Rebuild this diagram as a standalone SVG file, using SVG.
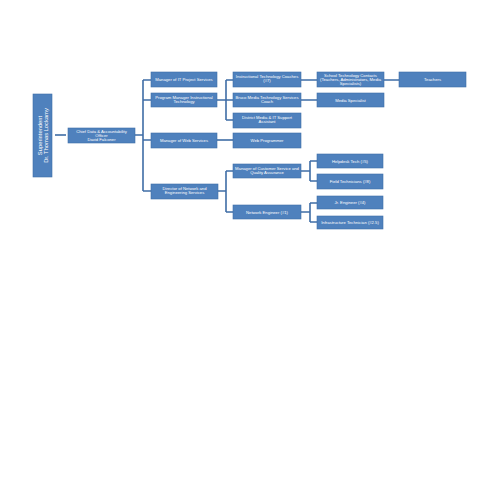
<svg xmlns="http://www.w3.org/2000/svg" width="495" height="495" viewBox="0 0 495 495">
<style>
.box{fill:#4F81BD;stroke:#3F6FA8;stroke-width:0.6}
.t{font-family:"Liberation Sans",Arial,sans-serif;font-size:4.2px;fill:#fff;text-anchor:middle}
.big{font-size:5.8px}
.c{stroke:#3F6DA6;stroke-width:1.6;fill:none}
</style>
<rect width="495" height="495" fill="#fff"/>
<g id="connectors">
<path class="c" d="M55 135H66"/>
<path class="c" d="M135 135H143M143 80V191M143 80H151M143 100H151M143 140H151M143 191H151"/>
<path class="c" d="M217 100H226M226 80V120M226 80H233M226 100H233M226 120H233"/>
<path class="c" d="M217 140H233"/>
<path class="c" d="M218 191H226M226 171V212M226 171H233M226 212H233"/>
<path class="c" d="M301 80H317M301 100H317M384 80H399"/>
<path class="c" d="M301 171H310M310 161V181M310 161H317M310 181H317"/>
<path class="c" d="M301 212H310M310 203V222M310 203H317M310 222H317"/>
</g>
<g id="superintendent">
<rect class="box" x="33" y="94" width="19" height="83"/>
<text class="t big" transform="translate(41.5,135.5) rotate(-90)">Superintendent</text>
<text class="t big" transform="translate(47.5,135.5) rotate(-90)">Dr. Thomas Lockamy</text>
</g>
<g id="chief">
<rect class="box" x="68" y="128" width="67" height="15"/>
<text class="t" x="101.5" y="133">Chief Data &amp; Accountability</text>
<text class="t" x="101.5" y="137.2">Officer</text>
<text class="t" x="101.5" y="141.4">David Falconer</text>
</g>
<g id="mgr-it">
<rect class="box" x="151" y="72" width="66" height="15"/>
<text class="t" x="184" y="81">Manager of IT Project Services</text>
</g>
<g id="pm-it">
<rect class="box" x="151" y="93" width="66" height="14"/>
<text class="t" x="184" y="99">Program Manager Instructional</text>
<text class="t" x="184" y="103.2">Technology</text>
</g>
<g id="mgr-web">
<rect class="box" x="151" y="133" width="66" height="15"/>
<text class="t" x="184" y="142">Manager of Web Services</text>
</g>
<g id="dir-net">
<rect class="box" x="151" y="184" width="67" height="15"/>
<text class="t" x="184.5" y="190">Director of Network and</text>
<text class="t" x="184.5" y="194.2">Engineering Services</text>
</g>
<g id="itc">
<rect class="box" x="233" y="72" width="68" height="15"/>
<text class="t" x="267" y="78">Instructional Technology Coaches</text>
<text class="t" x="267" y="82.2">(#7)</text>
</g>
<g id="bruco">
<rect class="box" x="233" y="93" width="68" height="14"/>
<text class="t" x="267" y="99">Bruco Media Technology Services</text>
<text class="t" x="267" y="103.2">Coach</text>
</g>
<g id="district-media">
<rect class="box" x="233" y="113" width="68" height="15"/>
<text class="t" x="267" y="119">District Media &amp; IT Support</text>
<text class="t" x="267" y="123.2">Assistant</text>
</g>
<g id="web-prog">
<rect class="box" x="233" y="133" width="68" height="15"/>
<text class="t" x="267" y="142">Web Programmer</text>
</g>
<g id="mgr-cs">
<rect class="box" x="233" y="164" width="68" height="14"/>
<text class="t" x="267" y="170">Manager of Customer Service and</text>
<text class="t" x="267" y="174.2">Quality Assurance</text>
</g>
<g id="net-eng">
<rect class="box" x="233" y="205" width="68" height="14"/>
<text class="t" x="267" y="213.5">Network Engineer (#1)</text>
</g>
<g id="school-contacts">
<rect class="box" x="317" y="72" width="67" height="15"/>
<text class="t" x="350.5" y="76.5">School Technology Contacts</text>
<text class="t" x="350.5" y="80.7">(Teachers, Administrators, Media</text>
<text class="t" x="350.5" y="84.9">Specialists)</text>
</g>
<g id="media-spec">
<rect class="box" x="317" y="93" width="67" height="14"/>
<text class="t" x="350.5" y="101.5">Media Specialist</text>
</g>
<g id="helpdesk">
<rect class="box" x="317" y="154" width="66" height="14"/>
<text class="t" x="350" y="162.5">Helpdesk Tech (#5)</text>
</g>
<g id="field-tech">
<rect class="box" x="317" y="174" width="66" height="15"/>
<text class="t" x="350" y="183">Field Technicians (#8)</text>
</g>
<g id="jr-eng">
<rect class="box" x="317" y="196" width="66" height="13"/>
<text class="t" x="350" y="204">Jr. Engineer (#4)</text>
</g>
<g id="infra-tech">
<rect class="box" x="317" y="216" width="66" height="13"/>
<text class="t" x="350" y="224">Infrastructure Technician (#2.5)</text>
</g>
<g id="teachers">
<rect class="box" x="399" y="72" width="67" height="15"/>
<text class="t" x="432.5" y="81">Teachers</text>
</g>
</svg>
